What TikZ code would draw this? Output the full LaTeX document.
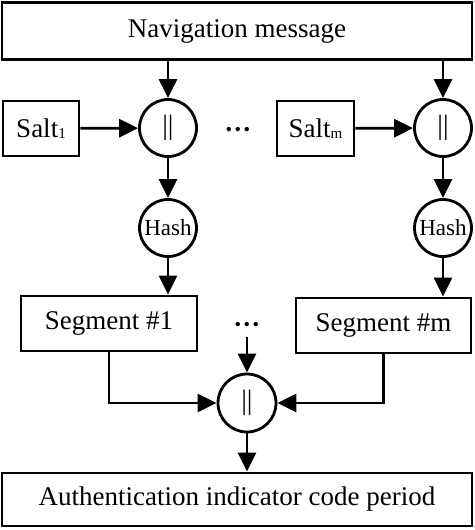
\documentclass[tikz,border=0pt]{standalone}
\usepackage{fontspec}
\setmainfont{Liberation Serif}
\usetikzlibrary{arrows.meta}
\begin{document}
\begin{tikzpicture}[x=1pt,y=-1pt,line width=2.8pt,>={Triangle[length=19pt,width=18pt]},
    block/.style={draw, rectangle, inner sep=0pt, minimum height=55pt, font=\fontsize{27}{30}\selectfont},
    op/.style={draw, circle, minimum size=57pt, inner sep=0pt, font=\fontsize{23}{26}\selectfont},
    bars/.style={font=\fontsize{28}{30}\selectfont},
    dotsbox/.style={inner sep=0pt, font=\bfseries\fontsize{27}{30}\selectfont}]
    \useasboundingbox (0,0) rectangle (474,530);
    \node[block, minimum width=470pt, minimum height=57pt] (nav) at (237,31) {Navigation message};
    \node[block, minimum width=76pt] (salt1) at (41,128.5) {Salt\raisebox{-1pt}{\fontsize{15}{15}\selectfont 1}};
    \node[block, minimum width=77pt] (saltm) at (315.5,128.5) {Salt\raisebox{-1pt}{\fontsize{15}{15}\selectfont m}};
    \node[op, bars] (cat1) at (168,128) {||};
    \node[op, bars] (catm) at (443,128) {||};
    \node[dotsbox] (dots1) at (238,133) {···};
    \node[op] (hash1) at (168,228) {Hash};
    \node[op] (hashm) at (443,228) {Hash};
    \node[block, minimum width=176pt] (seg1) at (109,323.5) {Segment \#1};
    \node[block, minimum width=175pt] (segm) at (383.5,325.5) {Segment \#m};
    \node[dotsbox] (dots2) at (247,328) {···};
    \coordinate (dots2end) at (247,337);
    \node[op, bars, minimum size=58pt] (cat) at (247,403) {||};
    \node[block, minimum width=470pt, minimum height=53pt] (auth) at (237,499.5) {Authentication indicator code period};

    \draw [->] (cat1 |- nav.south) -- (cat1);
    \draw [->] (catm |- nav.south) -- (catm);
    \draw [->] (salt1) -- (cat1);
    \draw [->] (saltm) -- (catm);
    \draw [->] (cat1) -- (hash1);
    \draw [->] (catm) -- (hashm);
    \draw [->] (hash1) -- (hash1 |- seg1.north);
    \draw [->] (hashm) -- (hashm |- segm.north);
    \draw [->] (seg1.south) |- (cat);
    \draw [->] (segm.south) |- (cat);
    \draw [->] (dots2end) -- (cat);
    \draw [->] (cat) -- (cat |- auth.north);
\end{tikzpicture}
\end{document}
